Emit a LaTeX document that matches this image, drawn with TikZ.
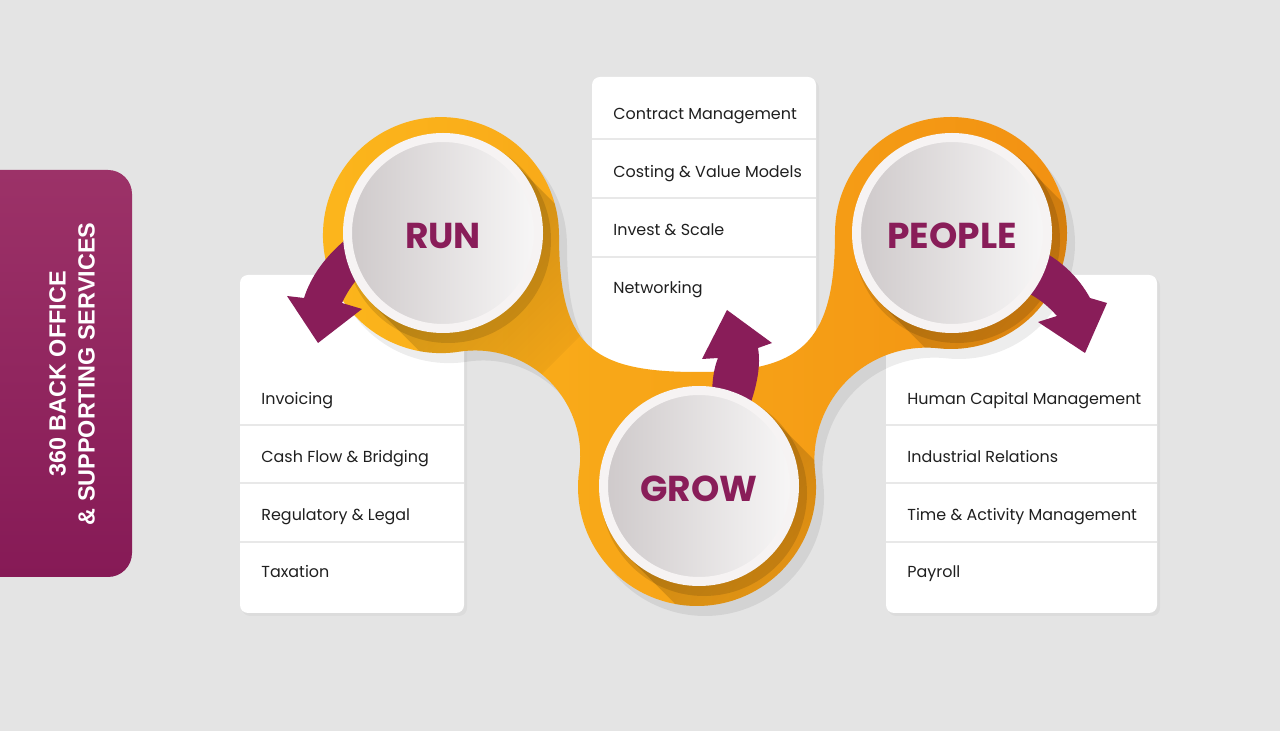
\documentclass[tikz,border=0pt]{standalone}
\usepackage{fontspec}
\setmainfont{Poppins}
\newfontfamily\bannerfont{Liberation Sans}
\usepackage{tikz}
\usetikzlibrary{fadings}

\definecolor{plum}{RGB}{137,29,89}
\definecolor{plumtop}{RGB}{156,50,104}
\definecolor{plumbot}{RGB}{134,26,86}
\definecolor{hubyellow}{RGB}{252,182,28}
\definecolor{huborange}{RGB}{242,145,18}
\definecolor{backdrop}{RGB}{228,228,228}
\definecolor{discgray}{RGB}{206,201,202}
\definecolor{discwhite}{RGB}{248,247,247}
\definecolor{ringwhite}{RGB}{246,243,243}

\newcommand{\hubpath}{(559,235) .. controls (559,345) and (590,372) .. (697,372)
  .. controls (800,372) and (835,345) .. (835,233)
  arc[start angle=180, end angle=456.2, radius=116]
  arc[start angle=276.2, end angle=173.2, radius=112]
  arc[start angle=-6.8, end angle=188.1, radius=119]
  arc[start angle=8.1, end angle=-98.9, radius=105]
  arc[start angle=81.2, end angle=360, radius=118] -- cycle}

\begin{document}
\begin{tikzpicture}[
  x=0.5pt, y=-0.5pt,
  panel/.style={
    fill=white,
    rounded corners=4pt
  },
  rowline/.style={draw=black!9, line width=1pt},
  item/.style={
    anchor=west,
    inner sep=0pt,
    text height=5.6pt,
    text depth=0pt,
    text=black!88,
    font=\fontsize{7.97}{10}\selectfont
  },
  disc/.style={
    circle,
    minimum size=95.5pt,
    inner sep=0pt,
    draw=ringwhite,
    line width=4.5pt,
    left color=discgray,
    right color=discwhite,
    text=plum,
    text height=16pt,
    text depth=0pt,
    font=\bfseries\fontsize{18}{20}\selectfont
  },
  bannertext/.style={
    rotate=90,
    align=center,
    text=white,
    font=\bannerfont\bfseries\fontsize{11.7}{14.5}\selectfont
  },
  turn/.style={fill=plum},
  longshadow/.style={fill=black, opacity=0.22, path fading=south, fading angle=45},
  softshadow/.style={fill=black, opacity=0.07}
]
  \useasboundingbox (0,0) rectangle (1280,731);
  \fill[backdrop] (0,0) rectangle (1280,731);

  \shade[top color=plumtop, bottom color=plumbot, rounded corners=12pt] (-40,170) rectangle (132,577);
  \node[bannertext] (banner) at (72,374) {360 BACK OFFICE\\\& SUPPORTING SERVICES};

  \fill[softshadow, opacity=0.03, rounded corners=4pt] (242,278) rectangle (467,616);
  \fill[panel] (240,275) rectangle (464,613);
  \draw[rowline] (240,425) -- (464,425);
  \draw[rowline] (240,483) -- (464,483);
  \draw[rowline] (240,542) -- (464,542);
  \node[item] (invoicing) at (261,399) {Invoicing};
  \node[item] (cashflow) at (261,457) {Cash Flow \& Bridging};
  \node[item] (legal) at (261,515) {Regulatory \& Legal};
  \node[item] (taxation) at (261,572) {Taxation};

  \fill[softshadow, opacity=0.03, rounded corners=4pt] (594,80) rectangle (819,395);
  \fill[panel] (592,77) rectangle (816,395);
  \draw[rowline] (592,139) -- (816,139);
  \draw[rowline] (592,198) -- (816,198);
  \draw[rowline] (592,257) -- (816,257);
  \node[item] (contract) at (613,114) {Contract Management};
  \node[item] (costing) at (613,172) {Costing \& Value Models};
  \node[item] (invest) at (613,230) {Invest \& Scale};
  \node[item] (networking) at (613,288) {Networking};

  \fill[softshadow, opacity=0.03, rounded corners=4pt] (888,278) rectangle (1160,616);
  \fill[panel] (886,275) rectangle (1157,613);
  \draw[rowline] (886,425) -- (1157,425);
  \draw[rowline] (886,483) -- (1157,483);
  \draw[rowline] (886,542) -- (1157,542);
  \node[item] (capital) at (907,399) {Human Capital Management};
  \node[item] (relations) at (907,457) {Industrial Relations};
  \node[item] (activity) at (907,515) {Time \& Activity Management};
  \node[item] (payroll) at (907,572) {Payroll};

  \fill[softshadow, shift={(8,10)}] \hubpath;
  \shade[left color=hubyellow, right color=huborange] \hubpath;
  \begin{scope}
    \clip \hubpath;
    \fill[longshadow] (513.7,162.3) -- (633.7,282.3) -- (492.3,423.7) -- (372.3,303.7) -- cycle;
    \fill[longshadow] (769.7,415.3) -- (889.7,535.3) -- (748.3,676.7) -- (628.3,556.7) -- cycle;
    \fill[longshadow] (1022.7,162.3) -- (1142.7,282.3) -- (1001.3,423.7) -- (881.3,303.7) -- cycle;
    \fill[softshadow, opacity=0.12] (448,240) circle (103);
    \fill[softshadow, opacity=0.12] (704,493) circle (103);
    \fill[softshadow, opacity=0.12] (957,240) circle (103);
  \end{scope}

  \fill[turn] (350,236) .. controls (326,255) and (311,276) .. (304,298) -- (287,296) -- (318,343)
    -- (362,309) -- (342,303) .. controls (348,290) and (356,279) .. (366,270) -- cycle;
  \fill[turn] (712,398) .. controls (712,380) and (714,368) .. (718,358) -- (702,359) -- (727,310)
    -- (772,343) -- (758,348) .. controls (761,365) and (757,385) .. (750,405) -- cycle;
  \fill[turn] (1040,250) .. controls (1062,261) and (1079,278) .. (1090,298) -- (1107,303) -- (1085,353)
    -- (1038,322) -- (1057,316) .. controls (1049,307) and (1040,299) .. (1026,292) -- cycle;

  \node[disc] (run) at (443,233) {RUN};
  \node[disc] (grow) at (699,486) {GROW};
  \node[disc] (people) at (952,233) {PEOPLE};
\end{tikzpicture}
\end{document}
